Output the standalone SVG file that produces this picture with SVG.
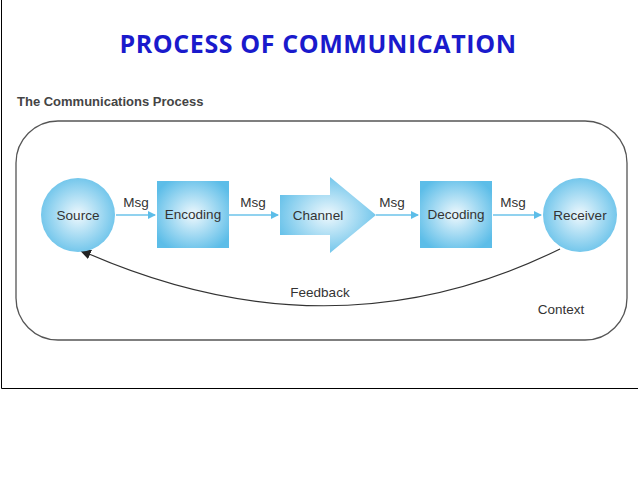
<svg xmlns="http://www.w3.org/2000/svg" width="638" height="479" viewBox="0 0 638 479">
<defs>
<radialGradient id="g" cx="50%" cy="50%" r="60%"><stop offset="0" stop-color="#eef8fd"/><stop offset="1" stop-color="#5cbde8"/></radialGradient>
<marker id="m" markerWidth="8" markerHeight="8" refX="7" refY="4" orient="auto" markerUnits="userSpaceOnUse"><path d="M0,0 L8,4 L0,8z" fill="#5cbde8"/></marker>
<marker id="k" markerWidth="12" markerHeight="10" refX="11" refY="5" orient="auto" markerUnits="userSpaceOnUse"><path d="M0,0 L12,5 L0,10z" fill="#222"/></marker>
</defs>
<style>
text{font-family:"Liberation Sans",Arial,sans-serif;fill:#333;font-size:13.5px}
.c{text-anchor:middle}
.l{stroke:#6cc3ea;stroke-width:1.5;fill:none;marker-end:url(#m)}
.n{fill:url(#g)}
</style>
<rect width="638" height="479" fill="#fff"/>
<path d="M1.5,0 V388.5 H638" stroke="#000" fill="none"/>
<text x="318" y="53" class="c" style="font-family:'Open Sans','Liberation Sans',sans-serif;font-weight:bold;font-size:25px;fill:#1a1acc;letter-spacing:0.6px">PROCESS OF COMMUNICATION</text>
<text x="17" y="106" style="font-weight:bold;font-size:13px;fill:#444">The Communications Process</text>
<rect x="16" y="121" width="611" height="219" rx="42" fill="none" stroke="#555" stroke-width="1.3"/>
<g id="connectors">
<line x1="116" y1="215" x2="155" y2="215" class="l"/>
<line x1="229" y1="215" x2="278" y2="215" class="l"/>
<line x1="376" y1="215" x2="418" y2="215" class="l"/>
<line x1="493" y1="215" x2="541" y2="215" class="l"/>
<path d="M560,249 Q330,362 80,250" fill="none" stroke="#333" stroke-width="1.2" marker-end="url(#k)"/>
<text x="136" y="207" class="c">Msg</text>
<text x="253" y="207" class="c">Msg</text>
<text x="392" y="207" class="c">Msg</text>
<text x="513" y="207" class="c">Msg</text>
<text x="320" y="297" class="c">Feedback</text>
</g>
<g id="source"><circle cx="78" cy="215" r="37" class="n"/><text x="78" y="220" class="c">Source</text></g>
<g id="encoding"><rect x="157" y="181" width="72" height="67" class="n"/><text x="193" y="219" class="c">Encoding</text></g>
<g id="channel"><path d="M280,195 H330 V177 L376,215 L330,253 V235 H280z" class="n"/><text x="318" y="220" class="c">Channel</text></g>
<g id="decoding"><rect x="420" y="181" width="72" height="67" class="n"/><text x="456" y="219" class="c">Decoding</text></g>
<g id="receiver"><circle cx="580" cy="215" r="37" class="n"/><text x="580" y="220" class="c">Receiver</text></g>
<text x="561" y="314" class="c">Context</text>
</svg>
